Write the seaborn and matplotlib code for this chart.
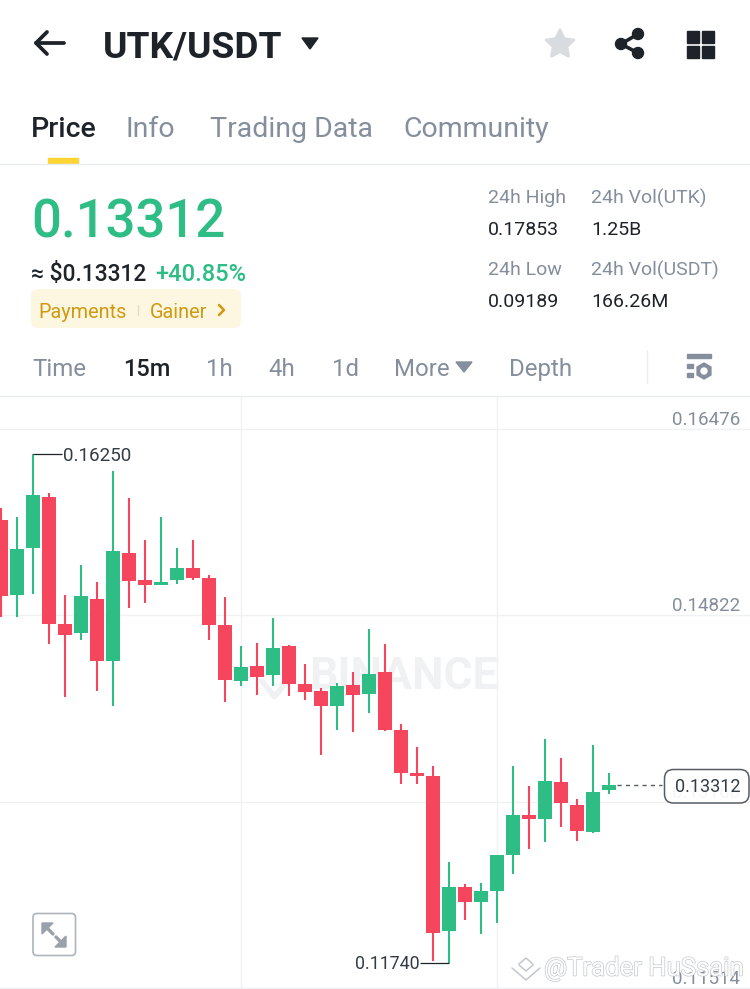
#!/usr/bin/env python3
"""
UTK/USDT 15m candles in the exchange app screen.
"""

import numpy as np
import pandas as pd
import matplotlib
matplotlib.use("Agg")
import matplotlib.pyplot as plt
import matplotlib.patheffects as pe
from matplotlib.patches import FancyBboxPatch, Polygon, Circle, Rectangle, RegularPolygon
import seaborn as sns

opens = [0.15668, 0.15002, 0.15420, 0.15872, 0.14745, 0.14665, 0.14967, 0.14417, 0.15375, 0.15136,
         0.15091, 0.15136, 0.15242, 0.15153, 0.14736, 0.14239, 0.14372, 0.14292, 0.14550, 0.14212,
         0.14150, 0.14017, 0.14203, 0.14124, 0.14319, 0.13804, 0.13422, 0.13396, 0.12020, 0.12410,
         0.12277, 0.12375, 0.12694, 0.13049, 0.13014, 0.13342, 0.13138, 0.12899, 0.13275]
closes = [0.14994, 0.15411, 0.15890, 0.14745, 0.14647, 0.14994, 0.14417, 0.15393, 0.15127, 0.15091,
          0.15118, 0.15242, 0.15153, 0.14736, 0.14248, 0.14363, 0.14275, 0.14532, 0.14212, 0.14141,
          0.14017, 0.14195, 0.14115, 0.14301, 0.13804, 0.13422, 0.13396, 0.12002, 0.12410, 0.12277,
          0.12375, 0.12694, 0.13049, 0.13014, 0.13351, 0.13156, 0.12907, 0.13254, 0.13312]
highs = [0.15775, 0.15695, 0.16250, 0.15908, 0.15002, 0.15269, 0.15118, 0.16103, 0.15863, 0.15491,
         0.15695, 0.15420, 0.15491, 0.15180, 0.14985, 0.14550, 0.14576, 0.14798, 0.14559, 0.14390,
         0.14177, 0.14221, 0.14319, 0.14701, 0.14567, 0.13857, 0.13653, 0.13484, 0.12632, 0.12437,
         0.12446, 0.12694, 0.13484, 0.13307, 0.13724, 0.13555, 0.13191, 0.13671, 0.13422]
lows = [0.14807, 0.14807, 0.15011, 0.14567, 0.14097, 0.14603, 0.14150, 0.14017, 0.14887, 0.14931,
        0.15091, 0.15100, 0.15136, 0.14603, 0.14053, 0.14195, 0.14115, 0.14195, 0.14106, 0.14070,
        0.13582, 0.13804, 0.13786, 0.13955, 0.13795, 0.13325, 0.13325, 0.11753, 0.11740, 0.12117,
        0.11993, 0.12091, 0.12526, 0.12748, 0.12810, 0.12943, 0.12819, 0.12890, 0.13236]

price_ticks = [0.16476, 0.14822, 0.13168, 0.11514]
price_labels = ["0.16476", "0.14822", "0.13168", "0.11514"]
last_price = 0.13312
chart_high = 0.16250
chart_low = 0.11740

tabs = ["Price", "Info", "Trading Data", "Community"]
intervals = ["Time", "15m", "1h", "4h", "1d", "More", "Depth"]

GREEN = "#2ebd85"
RED = "#f6465d"
DARK = "#1e2329"
GRAY = "#848e9c"
LIGHT = "#f0f1f2"
GOLD = "#d09a10"

sns.set_theme(style="white")
plt.rcParams["font.family"] = ["Roboto", "DejaVu Sans"]

W, H = 750, 989
fig = plt.figure(figsize=(W / 100, H / 100), dpi=100, facecolor="white")

# chart part, everything from the tab row down
CHART_TOP = 396
ax = fig.add_axes([0, 0, 1, (H - CHART_TOP) / H])
df = pd.DataFrame({"i": np.arange(len(opens)), "open": opens, "close": closes,
                   "high": highs, "low": lows})
df["body_low"] = df[["open", "close"]].min(axis=1)
df["body_size"] = (df["close"] - df["open"]).abs()
df["up"] = df["close"] >= df["open"]

for up, color in [(True, GREEN), (False, RED)]:
    part = df[df["up"] == up]
    ax.vlines(part["i"], part["low"], part["high"], color=color, lw=1.5, zorder=3)
    sns.barplot(data=part, x="i", y="body_size", bottom=part["body_low"].values, native_scale=True,
                color=color, saturation=1, width=14 / 16, errorbar=None, linewidth=0, zorder=4, ax=ax)

ax.set_xlim(-1 / 16, 749 / 16)
ax.set_ylim(0.11505, 0.16769)
ax.set_xlabel("")
ax.set_ylabel("")
ax.set_xticks([14.97, 30.97])
ax.set_yticks(price_ticks)
ax.tick_params(length=0, labelbottom=False, labelleft=False)
ax.grid(True, color=LIGHT, lw=1.0, zorder=0)
ax.set_axisbelow(True)
sns.despine(ax=ax, left=True, bottom=True)
ax.patch.set_alpha(0)

for p, lab in zip(price_ticks, price_labels):
    ax.annotate(lab, xy=(740 / W, p), xycoords=("axes fraction", "data"), xytext=(0, 6.5),
                textcoords="offset points", ha="right", va="center", fontsize=13.5, color=GRAY, zorder=6)

# high / low markers
ax.hlines(chart_high, 2, 3.8, color=DARK, lw=0.9, zorder=5)
ax.annotate("0.16250", xy=(3.9, chart_high), xytext=(0, -1.2), textcoords="offset points",
            va="center", ha="left", fontsize=13.5, color="#333b44", zorder=6)
ax.hlines(chart_low, 26.2, 28, color=DARK, lw=0.9, zorder=5)
ax.annotate("0.11740", xy=(26.15, chart_low), xytext=(0, -1.2), textcoords="offset points",
            va="center", ha="right", fontsize=12.8, color="#333b44", zorder=6)
ax.hlines(last_price, 38.5, 41.3, color="#555c66", lw=1, linestyles=(0, (3, 3)), zorder=5)

# overlay in pixels for the app chrome
ui = fig.add_axes([0, 0, 1, 1], zorder=10)
ui.set_xlim(0, W)
ui.set_ylim(H, 0)
ui.axis("off")
ui.patch.set_alpha(0)


def label(x, y, s, size=16, color=DARK, weight="normal", ha="left", **kw):
    # centre on the digits rather than on the line box
    return ui.text(x, y + size * 0.14, s, fontsize=size, color=color, fontweight=weight,
                   ha=ha, va="center", **kw)


def rbox(x0, y0, x1, y1, r, **kw):
    box = FancyBboxPatch((x0, y0), x1 - x0, y1 - y0, boxstyle=f"round,pad=0,rounding_size={r}", **kw)
    ui.add_patch(box)
    return box


# faint exchange watermark, under the candles
ax.text(404 / W, 1 - (677 - CHART_TOP) / (H - CHART_TOP), "BINANCE", transform=ax.transAxes, fontsize=32,
        fontweight="bold", color=LIGHT, ha="center", va="center", zorder=1)
ax.plot([16.3, 17.1, 17.9], [0.1424, 0.1410, 0.1424], color=LIGHT, lw=4, zorder=1)

# header
ui.plot([36, 64], [43, 43], color=DARK, lw=2.7)
ui.plot([47, 36, 47], [32, 43, 54], color=DARK, lw=2.7)
label(103, 44, "UTK/USDT", 26.7, DARK, "bold")
ui.add_patch(Polygon([(302, 38), (318, 38), (310, 49)], color=DARK))

# star icon
ang = np.deg2rad(np.arange(10) * 36 - 90)
rad = np.where(np.arange(10) % 2 == 0, 14.5, 7.2)
ui.add_patch(Polygon(np.c_[560 + rad * np.cos(ang), 44.5 + rad * np.sin(ang)], fc="#d8dbdf", ec="#d8dbdf",
                     lw=2, joinstyle="round"))

ui.plot([638, 621, 638], [34, 44, 53], color=DARK, lw=2.6)
for cx, cy, r in [(638, 34, 5.5), (621, 44, 5.5), (638, 53, 5.5)]:
    ui.add_patch(Circle((cx, cy), r, color=DARK))
for gx, gy in [(687, 30.5), (701.5, 30.5), (687, 45.5), (701.5, 45.5)]:
    ui.add_patch(Rectangle((gx, gy), 12, 12, color=DARK))

# tabs
for tab, x, c in zip(tabs, [31, 126, 210, 403], [DARK, GRAY, GRAY, GRAY]):
    label(x, 127, tab, 20.5, c, "medium" if c == DARK else "normal")
ui.add_patch(Rectangle((48, 158), 30, 5, color="#fcd535"))
ui.plot([0, W], [163.5, 163.5], color="#eaecef", lw=1)

# price block
label(31, 218, "0.13312", 38, GREEN, "medium")
label(31, 272, "≈ $0.13312", 16.4, DARK, "medium")
label(155, 272, "+40.85%", 17, GREEN, "medium")
rbox(31, 289, 241, 328, 7, fc="#fdf6e0", ec="none")
label(38, 310, "Payments", 14.3, GOLD)
ui.plot([138, 138], [305, 315], color="#e6dcc0", lw=1)
label(150, 310, "Gainer", 14.3, GOLD)
ui.plot([219, 224, 219], [305, 310, 315], color=GOLD, lw=1.8)

# 24h stats
label(488, 196, "24h High", 14, GRAY)
label(591, 196, "24h Vol(UTK)", 14, GRAY)
label(488, 228, "0.17853", 14, DARK)
label(591, 228, "1.25B", 14, DARK)
label(488, 268, "24h Low", 14, GRAY)
label(591, 268, "24h Vol(USDT)", 14, GRAY)
label(488, 300, "0.09189", 14, DARK)
label(591, 300, "166.26M", 14, DARK)

# interval row
for name, x in zip(intervals, [32, 123, 206, 268, 332, 394, 509]):
    if name == "15m":
        label(x, 367, name, 17, DARK, "medium")
    else:
        label(x, 367, name, 17.3, GRAY)
ui.add_patch(Polygon([(456, 362), (472, 362), (464, 372)], color=GRAY))
ui.plot([647, 647], [350, 383], color="#eaecef", lw=1)
ui.add_patch(Rectangle((687, 354), 24, 4, color=GRAY))
ui.add_patch(Rectangle((687, 364), 6, 3.5, color=GRAY))
ui.add_patch(Rectangle((687, 373), 6, 3.5, color=GRAY))
ui.add_patch(RegularPolygon((704, 371), 6, radius=8, color=GRAY))
ui.add_patch(Circle((704, 371), 3, color="white"))
ui.plot([0, W], [395.5, 395.5], color="#eaecef", lw=1)

# current price pill
rbox(664.5, 769.5, 749, 803, 9, fc="white", ec="#4a515b", lw=1.1, alpha=0.93)
label(707.5, 785.5, "0.13312", 13, "#333b44", ha="center")

# expand button
rbox(33, 913.5, 75.5, 955.5, 4, fc="white", ec="#aeb4bc", lw=1.2)
ui.add_patch(Polygon([(42, 923), (53, 923), (42, 934)], color="#9aa1ab"))
ui.add_patch(Polygon([(66, 947), (55, 947), (66, 936)], color="#9aa1ab"))
ui.plot([46, 53], [927, 934], color="#9aa1ab", lw=2.4)
ui.plot([62, 56], [943, 937], color="#9aa1ab", lw=2.4)

# user watermark
WM = "#c4c7cb"
ui.plot([519, 526, 533], [964, 958, 964], color=WM, lw=1.1)
ui.plot([519, 526, 533], [965, 971, 965], color=WM, lw=1.1)
ui.plot([512, 526, 540], [968, 980, 968], color=WM, lw=1.1)
stroke = [pe.withStroke(linewidth=1.0, foreground=WM)]
label(544, 966, "@Trader HuSsain", 18.5, "white", path_effects=stroke)

fig.savefig("out.png", dpi=100, facecolor="white")
